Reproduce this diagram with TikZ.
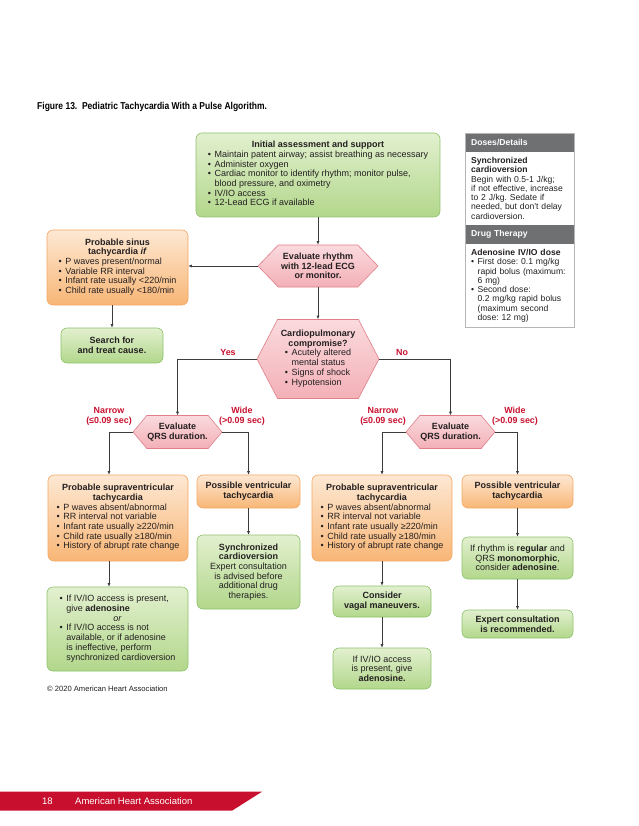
\documentclass[tikz,border=0pt]{standalone}
\usepackage{fontspec}
\setmainfont{Liberation Sans}
\newfontfamily\titlefont[FakeStretch=0.85]{Liberation Sans}
\usetikzlibrary{shapes.symbols,arrows.meta}

\definecolor{linegray}{HTML}{3C3C3C}
\definecolor{inkblack}{HTML}{231F20}
\definecolor{grnline}{HTML}{8DC26A}
\definecolor{grntop}{HTML}{E2F0CF}
\definecolor{grnbot}{HTML}{B2D78B}
\definecolor{orgline}{HTML}{F3A765}
\definecolor{orgtop}{HTML}{FDE8D3}
\definecolor{orgbot}{HTML}{F8B676}
\definecolor{pnkline}{HTML}{DF7F89}
\definecolor{pnktop}{HTML}{FADADD}
\definecolor{pnkbot}{HTML}{F3B0B7}
\definecolor{ahared}{HTML}{C8102E}
\definecolor{hdrgray}{HTML}{6F7072}
\definecolor{boxgray}{HTML}{B5B5B5}

\newcommand\bul{\makebox[0.75em][l]{\textbullet}}
\newcommand\bulpad{\hspace*{0.75em}}
\frenchspacing

\begin{document}
\begin{tikzpicture}[x=1pt, y=-1pt,
  every node/.style={font=\fontsize{9}{9.7}\selectfont, text=inkblack, inner sep=2pt, align=center},
  box/.style={rounded corners=6pt, line width=0.6pt},
  greenbox/.style={box, draw=grnline, top color=grntop, bottom color=grnbot},
  orangebox/.style={box, draw=orgline, top color=orgtop, bottom color=orgbot},
  hexbox/.style={signal, signal to=east and west, draw=pnkline, line width=0.6pt,
    top color=pnktop, bottom color=pnkbot, inner sep=0pt},
  redlabel/.style={text=ahared, font=\fontsize{8.9}{9.8}\selectfont\bfseries},
  dosepart/.style={anchor=north west, minimum width=109, text width=97, align=left,
    inner xsep=6, inner ysep=0, font=\fontsize{8.6}{9.25}\selectfont},
  dosehead/.style={dosepart, fill=hdrgray, text=white, font=\fontsize{8.6}{9.25}\selectfont\bfseries},
  arr/.style={draw=linegray, line width=0.6pt, -{Latex[length=3.5pt,width=3pt]}}]

  \useasboundingbox (0,0) rectangle (638,826);

  \node (title) [anchor=west, text=black, font=\titlefont\fontsize{10}{12}\selectfont\bfseries]
    at (35,107) {Figure 13.\ \ Pediatric Tachycardia With a Pulse Algorithm.};

  \node (init) [greenbox, minimum width=244, minimum height=84] at (318,175)
    {\textbf{Initial assessment and support}\\
     \begin{tabular}{@{}l@{}}
       \bul Maintain patent airway; assist breathing as necessary\\
       \bul Administer oxygen\\
       \bul Cardiac monitor to identify rhythm; monitor pulse,\\
       \bulpad blood pressure, and oximetry\\
       \bul IV/IO access\\
       \bul 12-Lead ECG if available
     \end{tabular}};

  \node (sinus) [orangebox, minimum width=141, minimum height=75] at (117.5,267.5)
    {\textbf{Probable sinus}\\\textbf{tachycardia \textit{if}}\\
     \begin{tabular}{@{}l@{}}
       \bul P waves present/normal\\
       \bul Variable RR interval\\
       \bul Infant rate usually <220/min\\
       \bul Child rate usually <180/min
     \end{tabular}};
  \node (search) [greenbox, minimum width=102, minimum height=35] at (112,345.5)
    {\textbf{Search for}\\\textbf{and treat cause.}};

  \node (rhythm) [hexbox, signal pointer angle=92, minimum width=120, minimum height=42] at (318,266)
    {\textbf{Evaluate rhythm}\\\textbf{with 12-lead ECG}\\\textbf{or monitor.}};
  \node (cardio) [hexbox, signal pointer angle=125, minimum width=122, minimum height=79] at (318,359)
    {\textbf{Cardiopulmonary}\\\textbf{compromise?}\\
     \begin{tabular}{@{}l@{}}
       \bul Acutely altered\\
       \bulpad mental status\\
       \bul Signs of shock\\
       \bul Hypotension
     \end{tabular}};
  \node (yes) [redlabel] at (228,352) {Yes};
  \node (no) [redlabel] at (402,352) {No};

  \node (qrsL) [hexbox, signal pointer angle=100, minimum width=89, minimum height=33] at (177.5,432)
    {\textbf{Evaluate}\\\textbf{QRS duration.}};
  \node (qrsR) [hexbox, signal pointer angle=100, minimum width=89, minimum height=33] at (450.5,432)
    {\textbf{Evaluate}\\\textbf{QRS duration.}};
  \node (nL) [redlabel] at (109,416.5) {Narrow\\(≤0.09 sec)};
  \node (wL) [redlabel] at (242,416.5) {Wide\\(>0.09 sec)};
  \node (nR) [redlabel] at (383,416.5) {Narrow\\(≤0.09 sec)};
  \node (wR) [redlabel] at (515,416.5) {Wide\\(>0.09 sec)};

  \node (svtL) [orangebox, minimum width=140, minimum height=86] at (118,518)
    {\textbf{Probable supraventricular}\\\textbf{tachycardia}\\
     \begin{tabular}{@{}l@{}}
       \bul P waves absent/abnormal\\
       \bul RR interval not variable\\
       \bul Infant rate usually ≥220/min\\
       \bul Child rate usually ≥180/min\\
       \bul History of abrupt rate change
     \end{tabular}};
  \node (vtL) [orangebox, minimum width=103, minimum height=33] at (248.5,491.5)
    {\textbf{Possible ventricular}\\\textbf{tachycardia}};
  \node (svtR) [orangebox, minimum width=140, minimum height=86] at (382,518)
    {\textbf{Probable supraventricular}\\\textbf{tachycardia}\\
     \begin{tabular}{@{}l@{}}
       \bul P waves absent/abnormal\\
       \bul RR interval not variable\\
       \bul Infant rate usually ≥220/min\\
       \bul Child rate usually ≥180/min\\
       \bul History of abrupt rate change
     \end{tabular}};
  \node (vtR) [orangebox, minimum width=111, minimum height=33] at (517.5,491.5)
    {\textbf{Possible ventricular}\\\textbf{tachycardia}};

  \node (adenL) [greenbox, minimum width=141, minimum height=84] at (117.5,629)
    {\begin{tabular}{@{}l@{}}
       \bul If IV/IO access is present,\\
       \bulpad give \textbf{adenosine}\\
       \multicolumn{1}{@{}c@{}}{\textit{or}}\\
       \bul If IV/IO access is not\\
       \bulpad available, or if adenosine\\
       \bulpad is ineffective, perform\\
       \bulpad synchronized cardioversion
     \end{tabular}};
  \node (sync) [greenbox, minimum width=103, minimum height=74] at (248.5,572)
    {\textbf{Synchronized}\\\textbf{cardioversion}\\Expert consultation\\is advised before\\additional drug\\therapies.};
  \node (vagal) [greenbox, minimum width=98, minimum height=31] at (382,601.5)
    {\textbf{Consider}\\\textbf{vagal maneuvers.}};
  \node (adenR) [greenbox, minimum width=98, minimum height=41] at (382,668.5)
    {If IV/IO access\\is present, give\\\textbf{adenosine.}};
  \node (regular) [greenbox, minimum width=111, minimum height=42] at (517.5,558)
    {If rhythm is \textbf{regular} and\\QRS \textbf{monomorphic},\\consider \textbf{adenosine}.};
  \node (expert) [greenbox, minimum width=111, minimum height=28] at (517.5,624)
    {\textbf{Expert consultation}\\\textbf{is recommended.}};

  \node (doseHead) [dosehead, minimum height=18.5] at (465,133) {Doses/Details};
  \node (doseBody) [dosepart, minimum height=72.5] at (doseHead.south west)
    {\textbf{Synchronized}\\\textbf{cardioversion}\\Begin with 0.5-1 J/kg;\\if not effective, increase\\to 2 J/kg. Sedate if\\needed, but don’t delay\\cardioversion.};
  \node (drugHead) [dosehead, minimum height=19] at (doseBody.south west) {Drug Therapy};
  \node (drugBody) [dosepart, minimum height=82.7] at (drugHead.south west)
    {\textbf{Adenosine IV/IO dose}\\\bul First dose: 0.1 mg/kg\\\bulpad rapid bolus (maximum:\\\bulpad 6 mg)\\\bul Second dose:\\\bulpad 0.2 mg/kg rapid bolus\\\bulpad (maximum second\\\bulpad dose: 12 mg)};
  \draw[boxgray, line width=0.6pt] (doseHead.north west) rectangle (drugBody.south east);

  \node (copy) [anchor=west, font=\fontsize{7.6}{9}\selectfont] at (45,688.5) {© 2020 American Heart Association};

  \fill[ahared] (0,791.7) -- (262,791.7) -- (232,810.7) -- (0,810.7) -- cycle;
  \node (page) [anchor=west, text=white, font=\fontsize{9.5}{11}\selectfont] at (40,801.5) {18};
  \node (org) [anchor=west, text=white, font=\fontsize{9.5}{11}\selectfont] at (73,801.5) {American Heart Association};

  \draw[arr] (init.south) -- (rhythm.north);
  \draw[arr] (rhythm.west) -- (sinus.east |- rhythm.west);
  \draw[arr] (sinus.south -| search.north) -- (search.north);
  \draw[arr] (rhythm.south) -- (cardio.north);
  \draw[arr] (cardio.west) -| (qrsL.north);
  \draw[arr] (cardio.east) -| (qrsR.north);
  \draw[arr] (qrsL.west) -| (svtL.north -| nL.south);
  \draw[arr] (qrsL.east) -| (vtL.north);
  \draw[arr] (qrsR.west) -| (svtR.north);
  \draw[arr] (qrsR.east) -| (vtR.north);
  \draw[arr] (svtL.south -| nL.south) -- (adenL.north -| nL.south);
  \draw[arr] (vtL.south) -- (sync.north);
  \draw[arr] (svtR.south) -- (vagal.north);
  \draw[arr] (vagal.south) -- (adenR.north);
  \draw[arr] (vtR.south) -- (regular.north);
  \draw[arr] (regular.south) -- (expert.north);
\end{tikzpicture}
\end{document}
